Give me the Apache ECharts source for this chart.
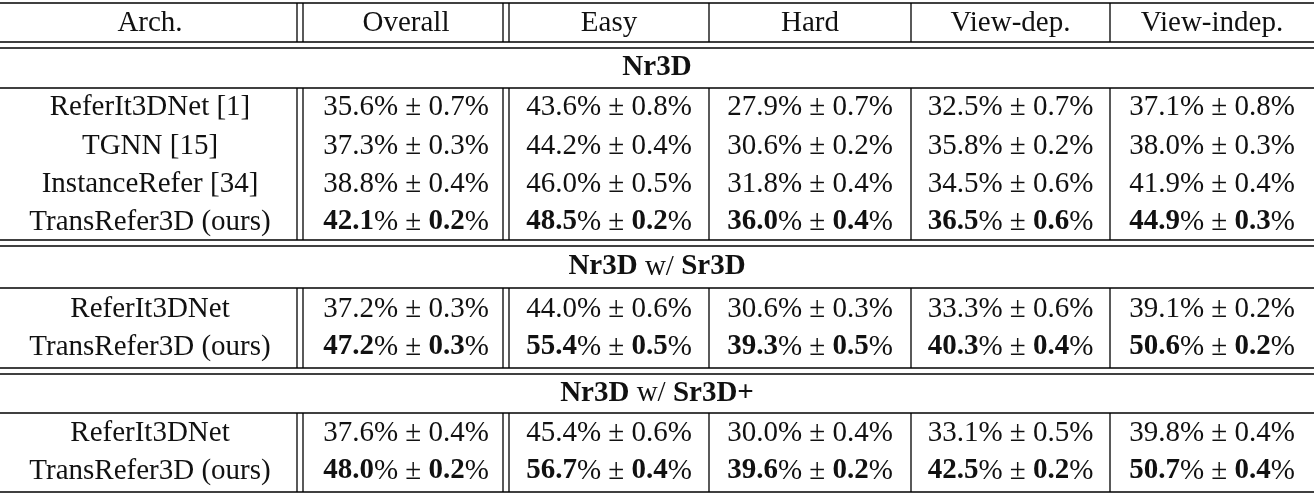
<!DOCTYPE html>
<html><head><meta charset="utf-8">
<script src="https://cdn.jsdelivr.net/npm/echarts@6/dist/echarts.min.js"></script>
<style>html,body{margin:0;padding:0;background:#fff}#c{width:1314px;height:495px}</style>
</head><body><div id="c"></div>
<script>
const headers = ["Arch.", "Overall", "Easy", "Hard", "View-dep.", "View-indep."];
const sections = [
  [{t:"Nr3D",b:true}],
  [{t:"Nr3D",b:true},{t:" w/ ",b:false},{t:"Sr3D",b:true}],
  [{t:"Nr3D",b:true},{t:" w/ ",b:false},{t:"Sr3D+",b:true}]
];
const archs = [
  ["ReferIt3DNet [1]", "TGNN [15]", "InstanceRefer [34]", "TransRefer3D (ours)"],
  ["ReferIt3DNet", "TransRefer3D (ours)"],
  ["ReferIt3DNet", "TransRefer3D (ours)"]
];
const ours = [[false,false,false,true],[false,true],[false,true]];
// [mean, std] per column: Overall, Easy, Hard, View-dep., View-indep.
const values = [
  [
    [[35.6,0.7],[43.6,0.8],[27.9,0.7],[32.5,0.7],[37.1,0.8]],
    [[37.3,0.3],[44.2,0.4],[30.6,0.2],[35.8,0.2],[38.0,0.3]],
    [[38.8,0.4],[46.0,0.5],[31.8,0.4],[34.5,0.6],[41.9,0.4]],
    [[42.1,0.2],[48.5,0.2],[36.0,0.4],[36.5,0.6],[44.9,0.3]]
  ],
  [
    [[37.2,0.3],[44.0,0.6],[30.6,0.3],[33.3,0.6],[39.1,0.2]],
    [[47.2,0.3],[55.4,0.5],[39.3,0.5],[40.3,0.4],[50.6,0.2]]
  ],
  [
    [[37.6,0.4],[45.4,0.6],[30.0,0.4],[33.1,0.5],[39.8,0.4]],
    [[48.0,0.2],[56.7,0.4],[39.6,0.2],[42.5,0.2],[50.7,0.4]]
  ]
];

const chart = echarts.init(document.getElementById('c'));
const FONT = '"Liberation Serif", serif';
const FS = 29;
const colX = [0, 303, 509, 709, 911, 1110, 1314];
const sep = [[297,303],[503,509],[709],[911],[1110]];
const g = [];
function line(x1,y1,x2,y2,w){g.push({type:'line',shape:{x1,y1,x2,y2},style:{stroke:'#000',lineWidth:w||1.3}});}
function rich(x,y,parts){
  g.push({type:'text',x,y,style:{text:parts.map(p=>'{'+(p.b?'b':'n')+'|'+p.t+'}').join(''),
    align:'center',verticalAlign:'middle',
    rich:{b:{fontFamily:FONT,fontSize:FS,fontWeight:'bold',fill:'#111'},n:{fontFamily:FONT,fontSize:FS,fill:'#111'}}}});
}
function cx(i){ return i===0 ? 150 : (colX[i]+colX[i+1])/2; }
function vlines(y1,y2){ sep.forEach(s=>s.forEach(x=>line(x,y1,x,y2))); }

line(0,3,1314,3);
headers.forEach((h,i)=>rich(cx(i),23,[{t:h,b:false}]));
vlines(3,42);
const secTop=[42,240,368], secLine=[88,288,413], rowY=[[107,146,184,222],[309,347],[433,471]], secEnd=[240,368,492];
sections.forEach((sec,s)=>{
  line(0,secTop[s],1314,secTop[s]); line(0,secTop[s]+6,1314,secTop[s]+6);
  rich(657,(secTop[s]+6+secLine[s])/2,sec);
  line(0,secLine[s],1314,secLine[s]);
  vlines(secLine[s],secEnd[s]);
  archs[s].forEach((a,r)=>{
    const y=rowY[s][r];
    rich(cx(0),y,[{t:a,b:false}]);
    values[s][r].forEach((v,c)=>{
      const b=ours[s][r];
      rich(cx(c+1),y,[{t:v[0].toFixed(1),b},{t:'% ± ',b:false},{t:v[1].toFixed(1),b},{t:'%',b:false}]);
    });
  });
});
line(0,492,1314,492);
chart.setOption({animation:false,graphic:g});
</script></body></html>
